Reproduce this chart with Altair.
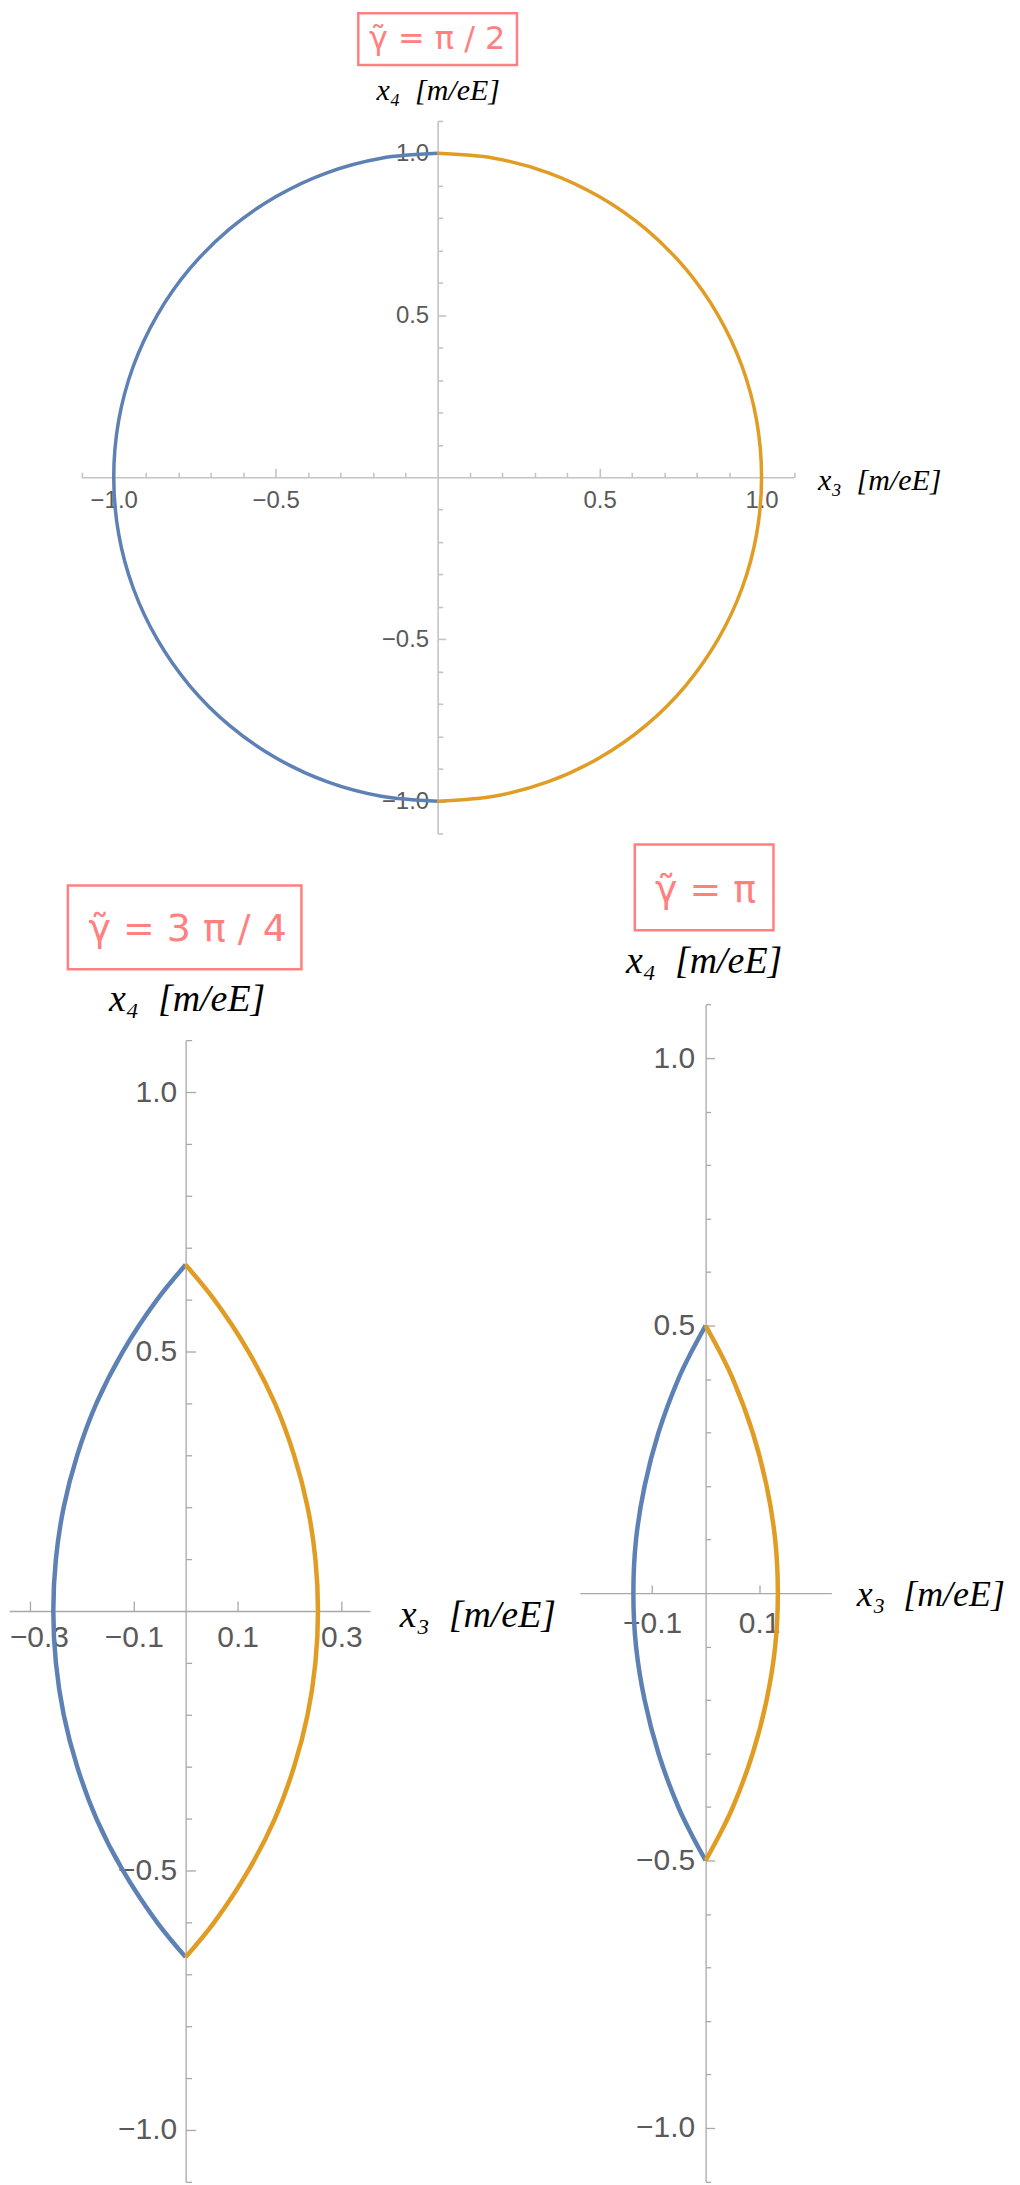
import json
import altair as alt
import pandas as pd

BLUE = "#5E81B5"
ORANGE = "#E19C24"
PINK = "#FF8080"

# ---- titles / axis titles ----
title_1 = "\u03b3\u0303 = \u03c0 / 2"
title_2 = "\u03b3\u0303 = 3 \u03c0 / 4"
title_3 = "\u03b3\u0303 = \u03c0"
x3_title = "x\u2083\u2002[m/eE]"
x4_title = "x\u2084\u2002[m/eE]"

# ---- panel 1 (gamma = pi/2): values ----
p1_x4 = [1.000, 0.985, 0.940, 0.866, 0.766, 0.643, 0.500, 0.342, 0.174, 0.000,
         -0.174, -0.342, -0.500, -0.643, -0.766, -0.866, -0.940, -0.985, -1.000]
p1_x3_left = [0.000, -0.174, -0.342, -0.500, -0.643, -0.766, -0.866, -0.940, -0.985, -1.000,
              -0.985, -0.940, -0.866, -0.766, -0.643, -0.500, -0.342, -0.174, 0.000]
p1_x3_right = [0.000, 0.174, 0.342, 0.500, 0.643, 0.766, 0.866, 0.940, 0.985, 1.000,
               0.985, 0.940, 0.866, 0.766, 0.643, 0.500, 0.342, 0.174, 0.000]

# ---- panel 2 (gamma = 3pi/4) ----
p2_x4 = [0.667, 0.600, 0.500, 0.400, 0.300, 0.200, 0.100, 0.000, -0.100, -0.200, -0.300, -0.400, -0.500, -0.600, -0.667]
p2_x3_left = [0.000, -0.055, -0.121, -0.172, -0.209, -0.235, -0.250, -0.255, -0.250, -0.235, -0.209, -0.172, -0.121, -0.055, 0.000]
p2_x3_right = [0.000, 0.055, 0.121, 0.172, 0.209, 0.235, 0.250, 0.255, 0.250, 0.235, 0.209, 0.172, 0.121, 0.055, 0.000]

# ---- panel 3 (gamma = pi) ----
p3_x4 = [0.500, 0.450, 0.400, 0.300, 0.200, 0.100, 0.000, -0.100, -0.200, -0.300, -0.400, -0.450, -0.500]
p3_x3_left = [0.000, -0.027, -0.051, -0.088, -0.114, -0.130, -0.135, -0.130, -0.114, -0.088, -0.051, -0.027, 0.000]
p3_x3_right = [0.000, 0.027, 0.051, 0.088, 0.114, 0.130, 0.135, 0.130, 0.114, 0.088, 0.051, 0.027, 0.000]

# ---- ticks and tick labels ----
y_ticks = [-1.1, -1.0, -0.9, -0.8, -0.7, -0.6, -0.5, -0.4, -0.3, -0.2, -0.1,
           0.1, 0.2, 0.3, 0.4, 0.5, 0.6, 0.7, 0.8, 0.9, 1.0, 1.1]
y_label_values = [-1.0, -0.5, 0.5, 1.0]
y_label_text = ["\u22121.0", "\u22120.5", "0.5", "1.0"]

p1_x_ticks = y_ticks
p1_x_label_values = [-1.0, -0.5, 0.5, 1.0]
p1_x_label_text = ["\u22121.0", "\u22120.5", "0.5", "1.0"]

p2_x_ticks = [-0.3, -0.1, 0.1, 0.3]
p2_x_label_values = [-0.3, -0.1, 0.1, 0.3]
p2_x_label_text = ["\u22120.3", "\u22120.1", "0.1", "0.3"]

p3_x_ticks = [-0.1, 0.1]
p3_x_label_values = [-0.1, 0.1]
p3_x_label_text = ["\u22120.1", "0.1"]


def curves(x3_left, x3_right, x4):
    rows = []
    for i, (a, b) in enumerate(zip(x3_left, x4)):
        rows.append({"x3": a, "x4": b, "side": "left", "i": i})
    for i, (a, b) in enumerate(zip(x3_right, x4)):
        rows.append({"x3": a, "x4": b, "side": "right", "i": i})
    return pd.DataFrame(rows)


def label_expr(values, texts):
    expr = "''"
    for v, t in reversed(list(zip(values, texts))):
        expr = f"datum.value == {v} ? '{t}' : {expr}"
    return expr


def major_test(values):
    return f"indexof({json.dumps(values)}, datum.value) >= 0"


def panel(df, title, G):
    xs = alt.Scale(domain=G["xdom"], range=G["xrange"], nice=False, zero=False)
    ys = alt.Scale(domain=[-1.1, 1.1], range=G["yrange"], nice=False, zero=False)
    common = dict(
        grid=False,
        labelFlush=False,
        labelOverlap=False,
        labelBound=False,
        labelFont="Liberation Sans",
        labelFontSize=G["tickfs"],
        labelColor="#5a5a5a",
        domainColor=G["axcol"],
        domainWidth=G["axw"],
        tickColor=G["axcol"],
        tickWidth=G["axw"],
        titleFont="Liberation Serif",
        titleFontStyle="italic",
        titleFontWeight="normal",
        titleColor="black",
        titleAngle=0,
        titleBaseline="middle",
    )
    xextra = {}
    if G.get("xlabshift"):
        v, d = G["xlabshift"]
        xextra["labelOffset"] = {"condition": {"test": f"datum.value == {v}", "value": d}, "value": 0}
    xaxis = alt.Axis(
        orient="top",
        offset=-G["y0"],
        values=G["xticks"],
        labelExpr=label_expr(G["xlabv"], G["xlabt"]),
        tickSize={"condition": {"test": major_test(G["xlabv"]), "value": G["xmaj"]}, "value": G["xmin"]},
        labelPadding=G["xpad"],
        labelBaseline="top",
        labelAlign="center",
        title=x3_title,
        titleX=G["x3tx"],
        titleY=G["x3ty"],
        titleAlign="left",
        titleFontSize=G["x3fs"],
        **xextra,
        **common,
    )
    yaxis = alt.Axis(
        orient="right",
        offset=G["x0"] - G["w"],
        values=y_ticks,
        labelExpr=label_expr(y_label_values, y_label_text),
        tickSize={"condition": {"test": major_test(y_label_values), "value": G["ymaj"]}, "value": G["ymin"]},
        labelPadding=G["ypad"],
        labelAlign="right",
        labelBaseline="middle",
        title=x4_title,
        titleX=G["x4tx"],
        titleY=G["x4ty"],
        titleAlign="center",
        titleFontSize=G["x4fs"],
        **common,
    )
    lines = alt.Chart(df).mark_line(strokeWidth=G["lw"], interpolate="catmull-rom").encode(
        x=alt.X("x3:Q", scale=xs, axis=xaxis),
        y=alt.Y("x4:Q", scale=ys, axis=yaxis),
        color=alt.Color("side:N", scale=alt.Scale(domain=["left", "right"], range=[BLUE, ORANGE]), legend=None),
        order=alt.Order("i:Q"),
    )
    tdf = pd.DataFrame({"t": [title]})
    box = alt.Chart(tdf).mark_rect(fillOpacity=0, stroke=PINK, strokeWidth=G["boxw"]).encode(
        x=alt.value(G["box"][0]), x2=alt.value(G["box"][1]),
        y=alt.value(G["box"][2]), y2=alt.value(G["box"][3]),
    )
    txt = alt.Chart(tdf).mark_text(
        font="DejaVu Sans", fontSize=G["headfs"], color=PINK, align="center", baseline="middle"
    ).encode(x=alt.value(G["txt"][0]), y=alt.value(G["txt"][1]), text="t:N")
    return alt.layer(box, txt, lines).properties(width=G["w"], height=G["h"])


G1 = dict(w=1004, h=830, x0=429.5, y0=467, xdom=[-1.1, 1.1], xrange=[72.5, 786.5], yrange=[824, 110],
          xticks=p1_x_ticks, xlabv=p1_x_label_values, xlabt=p1_x_label_text,
          xmaj=9, xmin=5, xpad=-20, ymaj=8, ymin=5, ypad=-17,
          tickfs=24, x3fs=30, x4fs=30, headfs=32, axcol="#c4c4c4", axw=1.6, lw=3.5,
          x3tx=810, x3ty=3, x4tx=0, x4ty=79,
          box=[350, 509, 2, 54], boxw=2.5, txt=[429, 28])

G2 = dict(w=562, h=1347, x0=177, y0=773, xdom=[-0.34, 0.355], xrange=[0.2, 361.6], yrange=[1345, 201],
          xticks=p2_x_ticks, xlabv=p2_x_label_values, xlabt=p2_x_label_text, xlabshift=(-0.3, 9),
          xmaj=10, xmin=10, xpad=-22, ymaj=10, ymin=6, ypad=-19,
          tickfs=30, x3fs=38, x4fs=38, headfs=38, axcol="#a8a8a8", axw=1.3, lw=4.5,
          x3tx=391, x3ty=5, x4tx=1, x4ty=160,
          box=[59, 293, 46, 130], boxw=2.5, txt=[179, 91])

G3 = dict(w=442, h=1347, x0=136, y0=755, xdom=[-0.235, 0.235], xrange=[10, 262], yrange=[1344.6, 165.4],
          xticks=p3_x_ticks, xlabv=p3_x_label_values, xlabt=p3_x_label_text,
          xmaj=8, xmin=8, xpad=-24, ymaj=9, ymin=5, ypad=-20,
          tickfs=30, x3fs=36, x4fs=38, headfs=38, axcol="#a8a8a8", axw=1.3, lw=4.5,
          x3tx=287, x3ty=2, x4tx=-2, x4ty=122,
          box=[65, 204, 5, 91], boxw=2.5, txt=[136, 52])

top = panel(curves(p1_x3_left, p1_x3_right, p1_x4), title_1, G1)
bl = panel(curves(p2_x3_left, p2_x3_right, p2_x4), title_2, G2)
br = panel(curves(p3_x3_left, p3_x3_right, p3_x4), title_3, G3)

bottom = alt.hconcat(bl, br, spacing=0, bounds="flush")
chart = alt.vconcat(top, bottom, spacing=0, bounds="flush").properties(padding=0).configure_view(
    stroke="transparent"
)

chart.save("out.html", embed_options={"renderer": "svg", "actions": False})
